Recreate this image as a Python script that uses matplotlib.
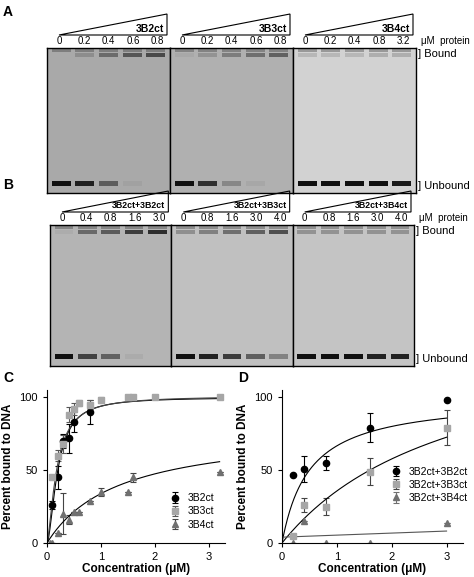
import numpy as np
import matplotlib.pyplot as plt
from matplotlib.patches import Polygon

W, H = 474, 577

# ---- gel data (lane labels and band intensities, 0..1) ----
gel_a_names = ["3B2ct", "3B3ct", "3B4ct"]
gel_a_lanes = [["0", "0.2", "0.4", "0.6", "0.8"],
               ["0", "0.2", "0.4", "0.6", "0.8"],
               ["0", "0.2", "0.4", "0.8", "3.2"]]
gel_a_unbound = [[1.0, 0.9, 0.5, 0.05, 0.0],
                 [1.0, 0.8, 0.25, 0.05, 0.0],
                 [1.0, 1.0, 1.0, 1.0, 0.95]]
gel_a_bound = [[0.0, 0.2, 0.45, 0.6, 0.7],
               [0.05, 0.2, 0.35, 0.45, 0.55],
               [0.15, 0.15, 0.15, 0.2, 0.2]]
gel_a_bg = ["#a9a9a9", "#b0b0b0", "#d2d2d2"]

gel_b_names = ["3B2ct+3B2ct", "3B2ct+3B3ct", "3B2ct+3B4ct"]
gel_b_lanes = [["0", "0.4", "0.8", "1.6", "3.0"],
               ["0", "0.8", "1.6", "3.0", "4.0"],
               ["0", "0.8", "1.6", "3.0", "4.0"]]
gel_b_unbound = [[1.0, 0.7, 0.5, 0.05, 0.0],
                 [1.0, 0.9, 0.75, 0.55, 0.35],
                 [1.0, 1.0, 1.0, 0.9, 0.9]]
gel_b_bound = [[0.05, 0.5, 0.6, 0.8, 0.9],
               [0.3, 0.4, 0.5, 0.6, 0.7],
               [0.3, 0.3, 0.3, 0.3, 0.3]]
gel_b_bg = ["#b4b4b4", "#c0c0c0", "#c4c4c4"]

# ---- binding data ----
c_conc_2 = [0.1, 0.2, 0.3, 0.4, 0.5, 0.8]
c_val_2 = [26, 45, 70, 72, 83, 90]
c_err_2 = [3, 8, 5, 10, 7, 8]
c_conc_3 = [0.1, 0.2, 0.3, 0.4, 0.5, 0.6, 0.8, 1.0, 1.5, 1.6, 2.0, 3.2]
c_val_3 = [45, 60, 68, 88, 92, 96, 95, 98, 100, 100, 100, 100]
c_err_3 = [0, 4, 6, 5, 4, 2, 3, 2, 0, 0, 0, 0]
c_conc_4 = [0.05, 0.1, 0.2, 0.3, 0.4, 0.5, 0.6, 0.8, 1.0, 1.5, 1.6, 3.2]
c_val_4 = [0, 0, 7, 20, 16, 21, 21, 29, 35, 35, 45, 49]
c_err_4 = [0, 0, 0, 14, 3, 0, 0, 0, 3, 0, 3, 0]

d_conc = [0.2, 0.4, 0.8, 1.6, 3.0]
d_val_22 = [47, 51, 55, 79, 98]
d_err_22 = [0, 9, 5, 10, 0]
d_val_23 = [5, 26, 25, 49, 79]
d_err_23 = [0, 5, 6, 9, 12]
d_val_24 = [0, 15, 0, 0, 14]
d_err_24 = [0, 0, 0, 0, 0]

fig = plt.figure(figsize=(W / 100, H / 100), dpi=100)
plt.rcParams['font.family'] = ['Liberation Sans', 'DejaVu Sans']


def px_axes(x0, y0, x1, y1):
    return fig.add_axes([x0 / W, 1 - y1 / H, (x1 - x0) / W, (y1 - y0) / H])


def draw_gel(x0, x1, y0, y1, names, lanes, unbound, bound, bgs, fs_tri):
    edges = np.linspace(x0, x1, 4)
    for i in range(3):
        ax = px_axes(edges[i], y0, edges[i + 1], y1)
        ax.set_facecolor(bgs[i])
        ax.set_xlim(-0.6, 4.6)
        ax.set_ylim(1, 0)
        ax.set_xticks([])
        ax.set_yticks([])
        for s in ax.spines.values():
            s.set_linewidth(1.0)
        for j in range(5):
            ax.bar(j, 0.02, bottom=0.01, width=0.8, color="#303030", alpha=0.35)
            ax.bar(j, 0.035, bottom=0.915, width=0.8, color="#101010", alpha=unbound[i][j])
            ax.bar(j, 0.03, bottom=0.035, width=0.8, color="#202020", alpha=bound[i][j])
        # triangle
        ex0, ex1 = edges[i] + 12, edges[i + 1] - 3
        base = 1 - (y0 - 13) / H
        tri = Polygon([[ex0 / W, base], [ex1 / W, base], [ex1 / W, 1 - (y0 - 34) / H]],
                      closed=True, fill=False, lw=0.8, transform=fig.transFigure)
        fig.add_artist(tri)
        fig.text((ex1 - 3) / W, base + 1.5 / H, names[i], ha="right", va="bottom",
                 fontsize=fs_tri, fontweight="bold")
        lx = np.linspace(edges[i] + 0.1 * (edges[i + 1] - edges[i]),
                         edges[i + 1] - 0.1 * (edges[i + 1] - edges[i]), 5)
        for j in range(5):
            fig.text(lx[j] / W, 1 - (y0 - 2) / H, lanes[i][j], ha="center", va="bottom",
                     fontsize=7)
    fig.text((x1 + 5) / W, 1 - (y0 - 2) / H, "μM  protein", ha="left", va="bottom", fontsize=7)
    fig.text((x1 + 2) / W, 1 - (y0 + 6) / H, "] Bound", ha="left", va="center", fontsize=8)
    fig.text((x1 + 2) / W, 1 - (y1 - 7) / H, "] Unbound", ha="left", va="center", fontsize=8)


draw_gel(47, 416, 48, 193, gel_a_names, gel_a_lanes, gel_a_unbound, gel_a_bound,
         gel_a_bg, 7.5)
draw_gel(50, 414, 225, 366, gel_b_names, gel_b_lanes, gel_b_unbound, gel_b_bound,
         gel_b_bg, 6.3)

for lab, (x, y) in zip("ABCD", [(3, 12), (3, 185), (3, 378), (238, 378)]):
    fig.text(x / W, 1 - y / H, lab, fontsize=10, fontweight="bold", va="center")


def hyper(x, bmax, k, n=1.0):
    return bmax * x ** n / (k ** n + x ** n)


def style(ax):
    ax.spines["top"].set_visible(False)
    ax.spines["right"].set_visible(False)
    ax.set_ylim(0, 105)
    ax.set_yticks([0, 50, 100])
    ax.set_xticks([0, 1, 2, 3])
    ax.tick_params(labelsize=8, length=3)
    ax.set_ylabel("Percent bound to DNA", fontsize=8.5, fontweight="bold")
    ax.set_xlabel("Concentration (μM)", fontsize=8.5, fontweight="bold", labelpad=1)


eb = dict(capsize=2.5, elinewidth=0.8, capthick=0.8, linestyle="none")

# ---- C ----
axc = px_axes(47, 390, 225, 543)
x = np.linspace(0, 3.2, 300)
axc.errorbar(c_conc_2, c_val_2, yerr=c_err_2, marker="o", ms=4.5, color="black",
             label="3B2ct", **eb)
axc.errorbar(c_conc_3, c_val_3, yerr=c_err_3, marker="s", ms=4.5, color="#a6a6a6",
             ecolor="#555555", label="3B3ct", **eb)
axc.errorbar(c_conc_4, c_val_4, yerr=c_err_4, marker="^", ms=5, color="#707070",
             ecolor="#444444", label="3B4ct", **eb)
axc.plot(x, hyper(x, 100, 0.2, 1.7), color="black", lw=0.8)
axc.plot(x, hyper(x, 101, 0.18, 1.5), color="#444444", lw=0.8)
axc.plot(x, hyper(x, 79, 1.33), color="black", lw=0.8)
axc.set_xlim(0, 3.3)
style(axc)
axc.legend(loc="lower right", fontsize=7.5, frameon=False, handletextpad=0.2,
           borderaxespad=0.6, labelspacing=0.3, bbox_to_anchor=(1.0, 0.02))

# ---- D ----
axd = px_axes(282, 390, 463, 543)
x = np.linspace(0, 3.0, 300)
axd.errorbar(d_conc, d_val_22, yerr=d_err_22, marker="o", ms=4.5, color="black",
             label="3B2ct+3B2ct", **eb)
axd.errorbar(d_conc, d_val_23, yerr=d_err_23, marker="s", ms=4.5, color="#a6a6a6",
             ecolor="#444444", label="3B2ct+3B3ct", **eb)
axd.errorbar(d_conc, d_val_24, yerr=d_err_24, marker="^", ms=5, color="#707070",
             label="3B2ct+3B4ct", **eb)
axd.plot(x, hyper(x, 100, 0.5), color="black", lw=0.8)
axd.plot(x, hyper(x, 150, 3.2), color="black", lw=0.8)
axd.plot(x, 4 + 1.4 * x, color="#555555", lw=0.8)
axd.set_xlim(0, 3.3)
style(axd)
axd.legend(loc="center right", fontsize=7.5, frameon=False, handletextpad=0.2,
           labelspacing=0.3, bbox_to_anchor=(1.08, 0.38))

fig.savefig("out.png", dpi=100)
